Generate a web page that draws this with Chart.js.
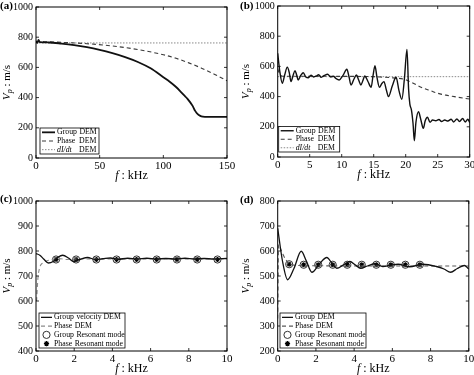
<!DOCTYPE html>
<html>
<head>
<meta charset="utf-8">
<script src="https://cdn.jsdelivr.net/npm/chart.js@4.4.0/dist/chart.umd.min.js"></script>
<style>
html, body { margin: 0; padding: 0; background: #fff; }
#wrap { position: relative; width: 474px; height: 375px; }
.panel { position: absolute; }
</style>
</head>
<body>
<div id="wrap">
  <div class="panel" style="left:0;top:0;width:237px;height:187px"><canvas id="chartA"></canvas></div>
  <div class="panel" style="left:237px;top:0;width:237px;height:187px"><canvas id="chartB"></canvas></div>
  <div class="panel" style="left:0;top:187px;width:237px;height:188px"><canvas id="chartC"></canvas></div>
  <div class="panel" style="left:237px;top:187px;width:237px;height:188px"><canvas id="chartD"></canvas></div>
</div>
<script>
// ---- panel (a) ----
const aGroupF = [0, 1, 2, 3, 10, 20, 30, 40, 50, 60, 70, 80, 90, 100, 105, 110, 113, 116, 119, 121, 123, 125, 127, 129, 131, 135, 150];
const aGroupV = [775, 762, 782, 768, 765, 758, 748, 734, 716, 694, 668, 636, 594, 535, 505, 470, 445, 418, 392, 370, 345, 312, 290, 279, 274, 272, 272];
const aPhaseF = [0, 20, 40, 60, 80, 100, 110, 120, 130, 140, 150];
const aPhaseV = [772, 766, 757, 742, 718, 684, 660, 630, 595, 555, 512];
const aDidtF = [0, 150];
const aDidtV = [762, 762];

// ---- panel (b) ----
const bGroupF = [0, 0.35, 0.72, 1.1, 1.5, 1.8, 2.08, 2.4, 2.7, 2.95, 3.2, 3.6, 4.0, 4.4, 4.8, 5.2, 5.6, 6.0, 6.4, 6.8, 7.3, 7.8, 8.3, 8.7, 9.1, 9.6, 10.2, 10.8, 11.15, 11.45, 11.9, 12.3, 12.65, 13.0, 13.3, 13.6, 14.1, 14.6, 14.9, 15.2, 15.5, 15.9, 16.25, 16.6, 17.0, 17.3, 17.9, 18.5, 18.95, 19.4, 19.8, 20.2, 20.45, 20.65, 20.9, 21.15, 21.35, 21.6, 22.0, 22.35, 22.75, 23.05, 23.4, 23.8, 24.2, 24.7, 25.2, 25.6, 26.1, 26.6, 27.1, 27.5, 28.0, 28.4, 28.9, 29.3, 29.7, 30.0];
const bGroupV = [687, 560, 488, 545, 595, 560, 500, 540, 572, 545, 510, 540, 558, 530, 525, 542, 530, 535, 545, 528, 540, 548, 530, 535, 520, 510, 540, 581, 530, 477, 515, 543, 510, 477, 505, 536, 500, 462, 540, 605, 530, 462, 485, 499, 440, 400, 470, 528, 440, 382, 520, 713, 450, 350, 311, 220, 108, 230, 300, 250, 190, 240, 263, 230, 245, 240, 248, 235, 245, 238, 250, 232, 252, 235, 255, 232, 250, 228];
const bPhaseF = [0, 0.3, 0.8, 5, 10, 14, 16, 18, 19.8, 21, 22.4, 24, 25, 26.5, 27.6, 29, 30];
const bPhaseV = [585, 550, 535, 535, 534, 533, 530, 524, 514, 492, 462, 437, 422, 408, 400, 390, 384];
const bDidtF = [0, 30];
const bDidtV = [532, 532];

// ---- panel (c) ----
const cGroupF = [0, 0.2, 0.4, 0.65, 0.9, 1.15, 1.4, 1.7, 1.95, 2.3, 2.7, 3.1, 3.5, 3.9, 4.3, 4.8, 5.3, 5.8, 6.3, 6.8, 7.3, 7.8, 8.3, 8.8, 9.3, 10];
const cGroupV = [790, 783, 768, 752, 758, 775, 783, 772, 758, 766, 774, 766, 769, 772, 767, 771, 768, 771, 768, 770, 768, 771, 768, 770, 768, 770];
const cPhaseF = [0.03, 0.1, 0.2, 0.35, 0.55, 0.8, 1.2, 1.6, 2.0, 10];
const cPhaseV = [600, 690, 735, 752, 760, 765, 770, 766, 768, 768];
const cModeF = [1.05, 2.1, 3.16, 4.22, 5.27, 6.32, 7.38, 8.44, 9.5];
const cModeGroupV = [766, 766, 766, 766, 766, 766, 766, 766, 766];
const cModePhaseV = [766, 766, 766, 766, 766, 766, 766, 766, 766];

// ---- panel (d) ----
const dGroupF = [0, 0.25, 0.52, 0.85, 1.23, 1.5, 1.79, 2.2, 2.57, 2.85, 3.09, 3.45, 3.78, 4.05, 4.34, 4.7, 5.09, 5.5, 5.9, 6.3, 6.9, 7.6, 8.3, 8.7, 9.05, 9.4, 9.77, 10];
const dGroupV = [691, 560, 485, 530, 599, 560, 515, 550, 574, 550, 531, 545, 558, 545, 531, 540, 549, 538, 543, 547, 537, 547, 538, 528, 515, 530, 542, 528];
const dPhaseF = [0, 0.04, 0.2, 0.4, 0.6, 0.9, 1.5, 10];
const dPhaseV = [330, 625, 600, 568, 550, 543, 541, 540];
const dModeF = [0.6, 1.36, 2.12, 2.88, 3.64, 4.4, 5.16, 5.92, 6.68, 7.44];
const dModeGroupV = [547, 545, 545, 545, 545, 545, 545, 545, 545, 545];
const dModePhaseV = [547, 545, 545, 545, 545, 545, 545, 545, 545, 545];

const serif = "'Liberation Serif', 'Times New Roman', serif";

function pts(xs, ys) {
    return xs.map((x, i) => ({ x: x, y: ys[i] }));
}

function solid(label, xs, ys, w) {
    return { label: label, data: pts(xs, ys), borderColor: '#111', borderWidth: w, pointRadius: 0, cubicInterpolationMode: 'monotone', fill: false };
}
function dashed(label, xs, ys, color) {
    return { label: label, data: pts(xs, ys), borderColor: color, borderWidth: 1.1, borderDash: [4, 3], pointRadius: 0, cubicInterpolationMode: 'monotone', fill: false };
}
function dotted(label, xs, ys) {
    return { label: label, data: pts(xs, ys), borderColor: '#8a8a8a', borderWidth: 1, borderDash: [1.5, 1.5], pointRadius: 0, fill: false, italicFirst: true };
}
function marks(label, xs, ys, style) {
    const star = style === 'star';
    return { label: label, data: pts(xs, ys), showLine: false, pointStyle: style, pointRadius: star ? 2.6 : 3.6,
        borderColor: star ? '#000' : '#333', backgroundColor: 'rgba(0,0,0,0)', pointBorderWidth: star ? 1.2 : 1 };
}

// inward ticks on all four sides + box, legend and titles
const matlabBox = {
    id: 'matlabBox',
    afterDraw(chart) {
        const ctx = chart.ctx, a = chart.chartArea;
        const xs = chart.scales.x, ys = chart.scales.y;
        ctx.save();
        ctx.strokeStyle = '#000';
        ctx.lineWidth = 0.8;
        ctx.beginPath();
        xs.ticks.forEach(t => {
            const px = xs.getPixelForValue(t.value);
            ctx.moveTo(px, a.bottom); ctx.lineTo(px, a.bottom - 3);
            ctx.moveTo(px, a.top); ctx.lineTo(px, a.top + 3);
        });
        ys.ticks.forEach(t => {
            const py = ys.getPixelForValue(t.value);
            ctx.moveTo(a.left, py); ctx.lineTo(a.left + 3, py);
            ctx.moveTo(a.right, py); ctx.lineTo(a.right - 3, py);
        });
        ctx.stroke();
        ctx.lineWidth = 1;
        ctx.strokeRect(a.left, a.top, a.right - a.left, a.bottom - a.top);

        // legend box
        const lg = chart.options.plugins.boxLegend;
        if (lg) {
            const bx = a.left + lg.dx, by = a.bottom - lg.dy - lg.h;
            ctx.fillStyle = '#fff';
            ctx.fillRect(bx, by, lg.w, lg.h);
            ctx.strokeStyle = '#000';
            ctx.lineWidth = 0.8;
            ctx.strokeRect(bx, by, lg.w, lg.h);
            const sets = chart.data.datasets;
            const rowH = lg.h / sets.length;
            sets.forEach((ds, i) => {
                const cy = by + rowH * (i + 0.5);
                ctx.save();
                if (ds.showLine === false) {
                    const cx = bx + 2 + lg.sample / 2;
                    ctx.strokeStyle = ds.borderColor;
                    ctx.fillStyle = 'rgba(0,0,0,0)';
                    ctx.lineWidth = ds.pointBorderWidth;
                    if (ds.pointStyle === 'circle') {
                        ctx.beginPath();
                        ctx.arc(cx, cy, ds.pointRadius, 0, Math.PI * 2);
                        ctx.stroke();
                    } else {
                        Chart.helpers.drawPoint(ctx, { pointStyle: ds.pointStyle, radius: ds.pointRadius, borderWidth: ds.pointBorderWidth, rotation: 0 }, cx, cy);
                    }
                } else {
                    ctx.strokeStyle = ds.borderColor;
                    ctx.lineWidth = ds.borderWidth;
                    ctx.setLineDash(ds.borderDash || []);
                    ctx.beginPath();
                    ctx.moveTo(bx + 2, cy); ctx.lineTo(bx + 2 + lg.sample, cy);
                    ctx.stroke();
                }
                ctx.restore();
                const sp = ds.label.indexOf(' ');
                const first = ds.label.slice(0, sp), rest = ds.label.slice(sp + 1);
                const tx0 = bx + lg.sample + 4;
                ctx.fillStyle = '#000';
                ctx.textBaseline = 'middle';
                ctx.textAlign = 'left';
                ctx.font = (ds.italicFirst ? 'italic ' : 'normal ') + lg.font + 'px ' + serif;
                const fw = ctx.measureText(first).width;
                ctx.fillText(first, tx0, cy);
                ctx.font = 'normal ' + lg.font + 'px ' + serif;
                ctx.fillText(rest, tx0 + Math.max(lg.col, fw + 2.5), cy);
            });
        }

        // panel tag and axis titles
        const tx = chart.options.plugins.panelText;
        ctx.fillStyle = '#000';
        ctx.textBaseline = 'middle';
        ctx.textAlign = 'left';
        ctx.font = 'bold 11px ' + serif;
        ctx.fillText(tx.tag, tx.tagX, tx.tagY);

        // x title: f : kHz
        ctx.font = 'italic 12px ' + serif;
        const w1 = ctx.measureText('f').width;
        ctx.font = '12px ' + serif;
        const w2 = ctx.measureText(' : kHz').width;
        const x0 = (a.left + a.right) / 2 - (w1 + w2) / 2;
        const yT = a.bottom + 18;
        ctx.font = 'italic 12px ' + serif;
        ctx.fillText('f', x0, yT);
        ctx.font = '12px ' + serif;
        ctx.fillText(' : kHz', x0 + w1, yT);

        // y title: Vp : m/s
        ctx.save();
        ctx.translate(tx.yTitleX, (a.top + a.bottom) / 2);
        ctx.rotate(-Math.PI / 2);
        ctx.font = 'italic 11px ' + serif;
        const v1 = ctx.measureText('V').width;
        ctx.font = 'italic 8px ' + serif;
        const v2 = ctx.measureText('p').width;
        ctx.font = '11px ' + serif;
        const v3 = ctx.measureText(' : m/s').width;
        const s = -(v1 + v2 + v3) / 2;
        ctx.font = 'italic 11px ' + serif;
        ctx.fillText('V', s, 0);
        ctx.font = 'italic 8px ' + serif;
        ctx.fillText('p', s + v1, 3);
        ctx.font = '11px ' + serif;
        ctx.fillText(' : m/s', s + v1 + v2, 0);
        ctx.restore();
        ctx.restore();
    }
};

function makePanel(id, p) {
    return new Chart(document.getElementById(id), {
        type: 'line',
        data: { datasets: p.datasets },
        options: {
            responsive: true,
            maintainAspectRatio: false,
            animation: false,
            events: [],
            layout: { padding: { top: p.padTop, right: p.padRight, bottom: 0, left: 0 } },
            plugins: {
                legend: { display: false },
                tooltip: { enabled: false },
                boxLegend: p.legend,
                panelText: p.text
            },
            scales: {
                x: {
                    type: 'linear', min: p.xMin, max: p.xMax,
                    ticks: { stepSize: p.xStep, padding: 2, color: '#000', maxRotation: 0, autoSkip: false,
                        font: { family: serif, size: 11 }, callback: v => String(v) },
                    grid: { display: false, drawTicks: false },
                    border: { display: false },
                    afterFit(s) { s.height = p.xH; s.paddingLeft = 0; s.paddingRight = 0; }
                },
                y: {
                    type: 'linear', min: p.yMin, max: p.yMax,
                    ticks: { stepSize: p.yStep, padding: 3, color: '#000', autoSkip: false,
                        font: { family: serif, size: 10 }, callback: v => String(v) },
                    grid: { display: false, drawTicks: false },
                    border: { display: false },
                    afterFit(s) { s.width = p.yW; s.paddingTop = 0; s.paddingBottom = 0; }
                }
            }
        },
        plugins: [matlabBox]
    });
}

makePanel('chartA', {
    datasets: [
        solid('Group DEM', aGroupF, aGroupV, 1.8),
        dashed('Phase DEM', aPhaseF, aPhaseV, '#3a3a3a'),
        dotted('dI/dt DEM', aDidtF, aDidtV)
    ],
    xMin: 0, xMax: 150, xStep: 50, yMin: 0, yMax: 1000, yStep: 200,
    padTop: 7, padRight: 10, yW: 36, xH: 29,
    legend: { dx: 4, dy: 4, w: 59, h: 26, sample: 13, col: 22, font: 7.8 },
    text: { tag: '(a)', tagX: 0, tagY: 6, yTitleX: 7 }
});

makePanel('chartB', {
    datasets: [
        solid('Group DEM', bGroupF, bGroupV, 1.4),
        dashed('Phase DEM', bPhaseF, bPhaseV, '#3a3a3a'),
        dotted('dI/dt DEM', bDidtF, bDidtV)
    ],
    xMin: 0, xMax: 30, xStep: 5, yMin: 0, yMax: 1000, yStep: 200,
    padTop: 6, padRight: 4.3, yW: 40.7, xH: 30,
    legend: { dx: 1, dy: 5, w: 61, h: 25.5, sample: 13, col: 22, font: 7.8 },
    text: { tag: '(b)', tagX: 3, tagY: 6, yTitleX: 9 }
});

makePanel('chartC', {
    datasets: [
        solid('Group velocity DEM', cGroupF, cGroupV, 1.3),
        dashed('Phase DEM', cPhaseF, cPhaseV, '#8a8a8a'),
        marks('Group Resonant mode', cModeF, cModeGroupV, 'circle'),
        marks('Phase Resonant mode', cModeF, cModePhaseV, 'star')
    ],
    xMin: 0, xMax: 10, xStep: 2, yMin: 400, yMax: 1000, yStep: 100,
    padTop: 14, padRight: 10, yW: 36, xH: 24,
    legend: { dx: 3, dy: 3, w: 86, h: 35, sample: 11, col: 19.3, font: 7.8 },
    text: { tag: '(c)', tagX: 0, tagY: 12, yTitleX: 7 }
});

makePanel('chartD', {
    datasets: [
        solid('Group DEM', dGroupF, dGroupV, 1.3),
        dashed('Phase DEM', dPhaseF, dPhaseV, '#5a5a5a'),
        marks('Group Resonant mode', dModeF, dModeGroupV, 'circle'),
        marks('Phase Resonant mode', dModeF, dModePhaseV, 'star')
    ],
    xMin: 0, xMax: 10, xStep: 2, yMin: 200, yMax: 800, yStep: 100,
    padTop: 14, padRight: 4.3, yW: 40.7, xH: 24,
    legend: { dx: 2.3, dy: 3, w: 86, h: 35, sample: 11, col: 19.3, font: 7.8 },
    text: { tag: '(d)', tagX: 3, tagY: 13, yTitleX: 9 }
});
</script>
</body>
</html>
